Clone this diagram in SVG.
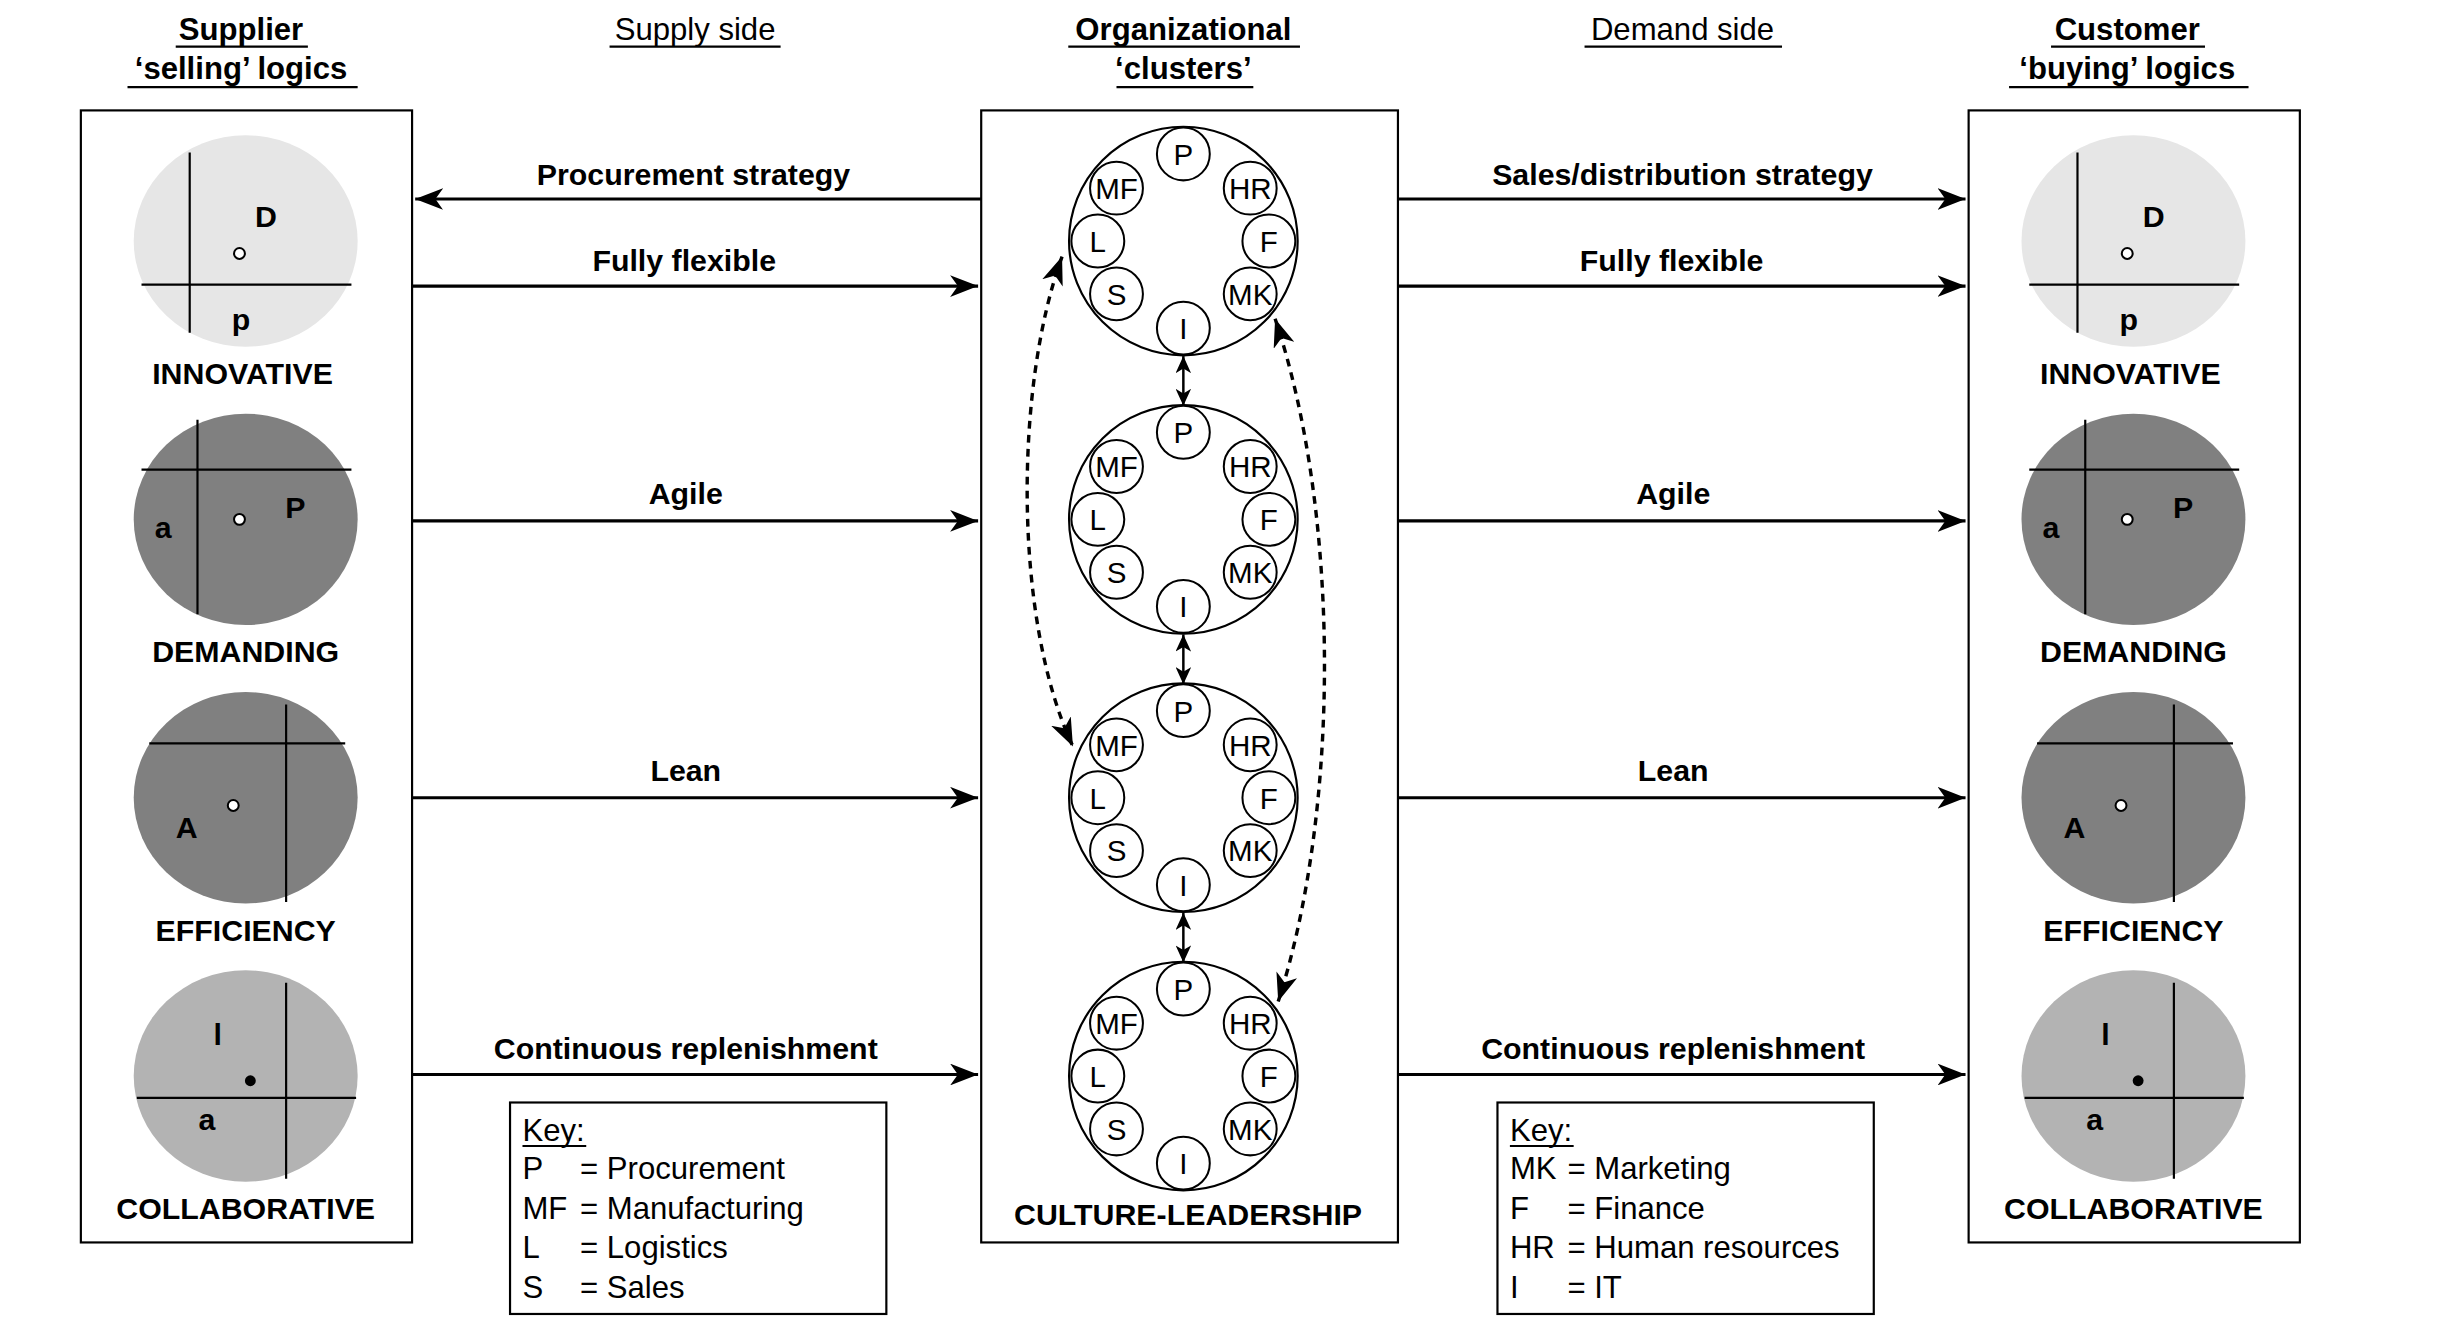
<svg xmlns="http://www.w3.org/2000/svg" width="2438" height="1329" viewBox="0 0 2438 1329">
<style>
text{font-family:"Liberation Sans",Arial,sans-serif;fill:#000}
.t{font-size:20px;font-weight:bold;text-anchor:middle}
.tn{font-size:20px;text-anchor:middle}
.lb{font-size:19.5px;font-weight:bold;text-anchor:middle}
.k{font-size:20px}
.sm{font-size:19px;text-anchor:middle}
.ln{stroke:#000;stroke-width:1.4;fill:none}
.bx{stroke:#000;stroke-width:1.4;fill:#fff}
.ar{stroke:#000;stroke-width:2;fill:none;marker-end:url(#ah)}
.da{stroke:#000;stroke-width:1.6;fill:none;marker-start:url(#sa);marker-end:url(#se)}
.ds{stroke:#000;stroke-width:2.2;fill:none;stroke-dasharray:5,4;marker-start:url(#ahs);marker-end:url(#ah)}
.sc{stroke:#000;stroke-width:1.3;fill:#fff}
</style>
<defs>
<marker id="ah" markerUnits="userSpaceOnUse" markerWidth="20" markerHeight="14" viewBox="0 0 20 14" refX="18" refY="7" orient="auto"><path d="M0,0 L18,7 L0,14 L5,7 Z" fill="#000"/></marker>
<marker id="ahs" markerUnits="userSpaceOnUse" markerWidth="20" markerHeight="14" viewBox="0 0 20 14" refX="18" refY="7" orient="auto-start-reverse"><path d="M0,0 L18,7 L0,14 L5,7 Z" fill="#000"/></marker>
<marker id="se" markerUnits="userSpaceOnUse" markerWidth="12" markerHeight="10" viewBox="0 0 12 10" refX="11" refY="5" orient="auto"><path d="M0,0 L11,5 L0,10 L3,5 Z" fill="#000"/></marker>
<marker id="sa" markerUnits="userSpaceOnUse" markerWidth="12" markerHeight="10" viewBox="0 0 12 10" refX="11" refY="5" orient="auto-start-reverse"><path d="M0,0 L11,5 L0,10 L3,5 Z" fill="#000"/></marker>
<g id="cl">
<circle r="73.5" class="ln"/>
<g class="sc"><circle cx="0" cy="-56" r="17"/><circle cx="-43" cy="-34" r="17"/><circle cx="43" cy="-34" r="17"/><circle cx="-55" cy="0" r="17"/><circle cx="55" cy="0" r="17"/><circle cx="-43" cy="34" r="17"/><circle cx="43" cy="34" r="17"/><circle cx="0" cy="56" r="17"/></g>
<g class="sm"><text x="0" y="-49">P</text><text x="-43" y="-27">MF</text><text x="43" y="-27">HR</text><text x="-55" y="7">L</text><text x="55" y="7">F</text><text x="-43" y="41">S</text><text x="43" y="41">MK</text><text x="0" y="63">I</text></g>
</g>
<g id="logics">
<g id="innov"><ellipse cx="158" cy="155" rx="72" ry="68" fill="#e6e6e6"/><path class="ln" d="M122,98V214M91,183H226"/><text class="lb" x="171" y="146">D</text><circle cx="154" cy="163" r="3.5" class="sc"/><text class="lb" x="155" y="212">p</text><text class="lb" x="156" y="247">INNOVATIVE</text></g>
<g id="demand"><ellipse cx="158" cy="334" rx="72" ry="68" fill="#808080"/><path class="ln" d="M127,270V395M91,302H226"/><text class="lb" x="105" y="346">a</text><circle cx="154" cy="334" r="3.5" class="sc"/><text class="lb" x="190" y="333">P</text><text class="lb" x="158" y="426">DEMANDING</text></g>
<g id="effic"><ellipse cx="158" cy="513" rx="72" ry="68" fill="#808080"/><path class="ln" d="M184,453V580M96,478H222"/><text class="lb" x="120" y="539">A</text><circle cx="150" cy="518" r="3.5" class="sc"/><text class="lb" x="158" y="605">EFFICIENCY</text></g>
<g id="collab"><ellipse cx="158" cy="692" rx="72" ry="68" fill="#b3b3b3"/><path class="ln" d="M184,632V758M88,706H229"/><text class="lb" x="140" y="672">l</text><circle cx="161" cy="695" r="3.5" fill="#000"/><text class="lb" x="133" y="727">a</text><text class="lb" x="158" y="784">COLLABORATIVE</text></g>
</g>
</defs>
<rect width="2438" height="1329" fill="#fff"/>
<g transform="scale(1.555)">
<g id="headers">
<text class="t" x="155" y="26">Supplier</text><text class="t" x="155" y="51">‘selling’ logics</text>
<path class="ln" d="M113,30H198M82,56H230"/>
<text class="tn" x="447" y="26">Supply side</text><path class="ln" d="M392,30H502"/>
<text class="t" x="761" y="26">Organizational</text><text class="t" x="761" y="51">‘clusters’</text>
<path class="ln" d="M687,30H836M718,56H806"/>
<text class="tn" x="1082" y="26">Demand side</text><path class="ln" d="M1019,30H1146"/>
<text class="t" x="1368" y="26">Customer</text><text class="t" x="1368" y="51">‘buying’ logics</text>
<path class="ln" d="M1319,30H1418M1292,56H1446"/>
</g>
<g id="supplier"><rect class="bx" x="52" y="71" width="213" height="728"/><use href="#logics"/></g>
<g id="customer"><rect class="bx" x="1266" y="71" width="213" height="728"/><use href="#logics" transform="translate(1214,0)"/></g>
<g id="clusters"><rect class="bx" x="631" y="71" width="268" height="728"/>
<use href="#cl" transform="translate(761,155)"/><use href="#cl" transform="translate(761,334)"/><use href="#cl" transform="translate(761,513)"/><use href="#cl" transform="translate(761,692)"/>
<text class="lb" x="764" y="788">CULTURE-LEADERSHIP</text></g>
<g id="keyL"><rect class="bx" x="328" y="709" width="242" height="136"/>
<text class="k" x="336" y="734">Key:</text><path class="ln" d="M336,737H377"/>
<text class="k" x="336" y="758">P</text><text class="k" x="336" y="784">MF</text><text class="k" x="336" y="809">L</text><text class="k" x="336" y="835">S</text>
<text class="k" x="373" y="758">= Procurement</text><text class="k" x="373" y="784">= Manufacturing</text><text class="k" x="373" y="809">= Logistics</text><text class="k" x="373" y="835">= Sales</text></g>
<g id="keyR"><rect class="bx" x="963" y="709" width="242" height="136"/>
<text class="k" x="971" y="734">Key:</text><path class="ln" d="M971,737H1012"/>
<text class="k" x="971" y="758">MK</text><text class="k" x="971" y="784">F</text><text class="k" x="971" y="809">HR</text><text class="k" x="971" y="835">I</text>
<text class="k" x="1008" y="758">= Marketing</text><text class="k" x="1008" y="784">= Finance</text><text class="k" x="1008" y="809">= Human resources</text><text class="k" x="1008" y="835">= IT</text></g>
<g id="connectors">
<path class="ar" d="M631,128H267"/><path class="ar" d="M265,184H629"/><path class="ar" d="M265,335H629"/><path class="ar" d="M265,513H629"/><path class="ar" d="M265,691H629"/>
<path class="ar" d="M899,128H1264"/><path class="ar" d="M899,184H1264"/><path class="ar" d="M899,335H1264"/><path class="ar" d="M899,513H1264"/><path class="ar" d="M899,691H1264"/>
<path class="da" d="M761,229V261"/><path class="da" d="M761,408V440"/><path class="da" d="M761,587V619"/>
<path class="ds" d="M683,165C652,250 652,400 690,480"/>
<path class="ds" d="M820,205C862,330 862,520 822,644"/>
<g class="lb"><text x="446" y="119">Procurement strategy</text><text x="440" y="174">Fully flexible</text><text x="441" y="324">Agile</text><text x="441" y="502">Lean</text><text x="441" y="681">Continuous replenishment</text>
<text x="1082" y="119">Sales/distribution strategy</text><text x="1075" y="174">Fully flexible</text><text x="1076" y="324">Agile</text><text x="1076" y="502">Lean</text><text x="1076" y="681">Continuous replenishment</text></g>
</g>
</g>
</svg>
